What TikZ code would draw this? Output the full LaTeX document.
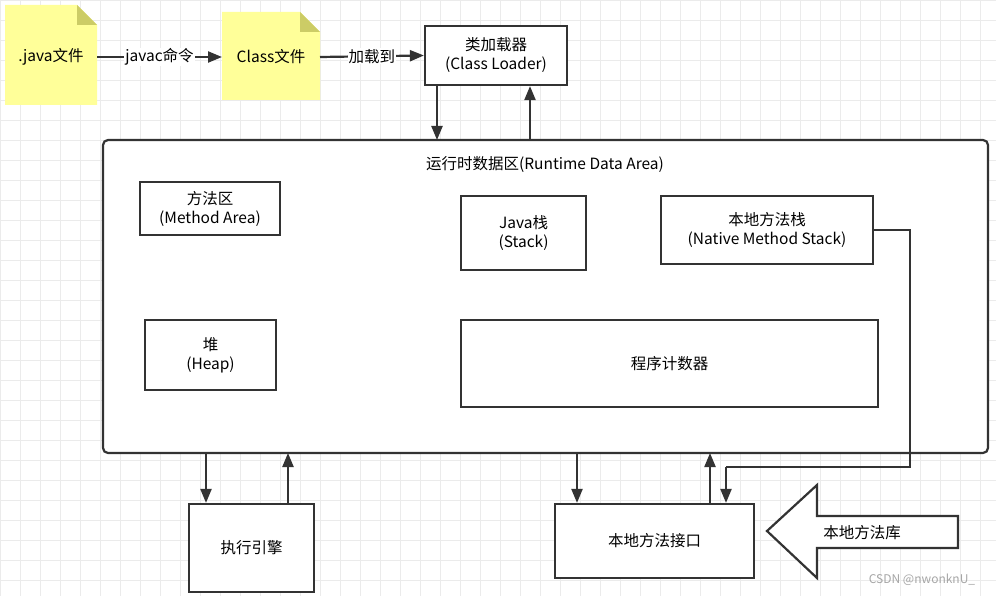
\documentclass[tikz,border=0pt]{standalone}
\usepackage{fontspec}
\setmainfont{Noto Sans CJK SC}
\usetikzlibrary{arrows.meta}
\definecolor{note}{HTML}{FFFF99}
\definecolor{fold}{HTML}{CCCC66}
\definecolor{ln}{HTML}{333333}
\begin{document}
\begin{tikzpicture}[x=1pt,y=-1pt,
  font=\fontsize{15.5}{19}\selectfont,
  box/.style={draw=ln,line width=2.2pt,fill=white,align=center,inner sep=0pt},
  arr/.style={draw=ln,line width=2.2pt,-{Stealth[length=14pt,width=11pt,inset=0pt]}},
  lbl/.style={fill=white,inner sep=1pt}]
\useasboundingbox (0,0) rectangle (996,596);
\fill[white] (0,0) rectangle (996,596);
\foreach \i in {0,20,...,980} \draw[black!8,line width=0.6pt] (\i,0) -- (\i,596);
\foreach \j in {0,20,...,580} \draw[black!8,line width=0.6pt] (0,\j) -- (996,\j);

% notes
\fill[note] (5,5) -- (77,5) -- (97,25) -- (97,105) -- (5,105) -- cycle;
\fill[fold] (77,5) -- (97,25) -- (77,25) -- cycle;
\node (java) at (51,57) {.java文件};
\coordinate (javaR) at (97,57);
\fill[note] (222,12) -- (300,12) -- (320,32) -- (320,100) -- (222,100) -- cycle;
\fill[fold] (300,12) -- (320,32) -- (300,32) -- cycle;
\node (cls) at (271,57) {Class文件};
\coordinate (clsL) at (222,57);
\coordinate (clsR) at (320,57);

\node[box,minimum width=142pt,minimum height=59pt] (ldr) at (496,55.5) {类加载器\\(Class Loader)};
\draw[arr] (javaR) -- node[lbl] {javac命令} (clsL);
\draw[arr] (clsR) -- node[lbl] {加载到} (ldr.west);

% runtime data area
\draw[ln,line width=2.2pt,rounded corners=5pt,fill=white] (103,140) rectangle (988,453);
\node (rt) at (545,165) {运行时数据区(Runtime Data Area)};
\coordinate (rtA) at (437,140);
\coordinate (rtB) at (530,140);
\draw[arr] (ldr.south -| rtA) -- (rtA);
\draw[arr] (rtB) -- (ldr.south -| rtB);

\node[box,minimum width=140pt,minimum height=53pt] (ma) at (210,208.5) {方法区\\(Method Area)};
\node[box,minimum width=125pt,minimum height=74pt] (st) at (523.5,233) {Java栈\\(Stack)};
\node[box,minimum width=212pt,minimum height=68pt] (ns) at (767,230) {本地方法栈\\(Native Method Stack)};
\node[box,minimum width=131pt,minimum height=70pt] (hp) at (210.5,355) {堆\\(Heap)};
\node[box,minimum width=417pt,minimum height=87pt] (pc) at (669.5,363.5) {程序计数器};

% engine and native interface
\node[box,minimum width=125pt,minimum height=88pt] (ee) at (251.5,548) {执行引擎};
\node[box,minimum width=199pt,minimum height=74pt] (ni) at (654.5,541) {本地方法接口};
\coordinate (e1) at (206,453);
\coordinate (e2) at (288,453);
\draw[arr] (e1) -- (e1 |- ee.north);
\draw[arr] (e2 |- ee.north) -- (e2);
\coordinate (n1) at (577,453);
\coordinate (n2) at (710,453);
\draw[arr] (n1) -- (n1 |- ni.north);
\draw[arr] (n2 |- ni.north) -- (n2);
\coordinate (k1) at (910,230);
\coordinate (k2) at (910,467);
\coordinate (k3) at (726,467);
\draw[arr,-] (ns.east) -- (k1) -- (k2) -- (k3);
\draw[arr] (k3) -- (k3 |- ni.north);

% native library arrow
\draw[ln,line width=2.2pt,fill=white] (767,531) -- (817,485) -- (817,516) -- (958,516)
  -- (958,548) -- (817,548) -- (817,578) -- cycle;
\node (lib) at (862,533) {本地方法库};

\node[text=black!35,font=\fontsize{12}{14}\selectfont] (wm) at (922,580) {CSDN @nwonknU\_};
\end{tikzpicture}
\end{document}
